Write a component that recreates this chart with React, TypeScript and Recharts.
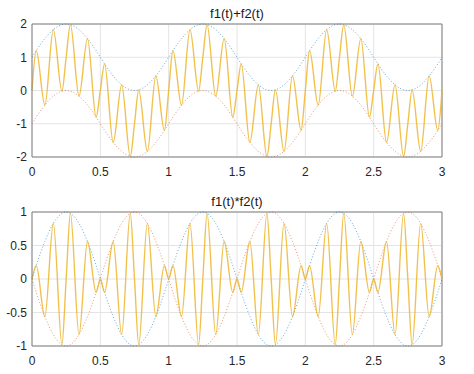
import React from "react"
import { CartesianGrid, Line, LineChart, ReferenceLine, XAxis, YAxis } from "recharts"

// sample times: extrema of the fast wave plus the quarter points of the slow one
const times = [
  0, 0.031, 0.094, 0.156, 0.219, 0.25, 0.281, 0.344, 0.406, 0.469,
  0.5, 0.531, 0.594, 0.656, 0.719, 0.75, 0.781, 0.844, 0.906, 0.969,
  1, 1.031, 1.094, 1.156, 1.219, 1.25, 1.281, 1.344, 1.406, 1.469,
  1.5, 1.531, 1.594, 1.656, 1.719, 1.75, 1.781, 1.844, 1.906, 1.969,
  2, 2.031, 2.094, 2.156, 2.219, 2.25, 2.281, 2.344, 2.406, 2.469,
  2.5, 2.531, 2.594, 2.656, 2.719, 2.75, 2.781, 2.844, 2.906, 2.969,
  3,
]

// f1(t)+f2(t)
const sumWave = [
  0, 1.2, -0.44, 1.83, -0.02, 1, 1.98, -0.17, 1.56, -0.8,
  0, 0.8, -1.56, 0.17, -1.98, -1, 0.02, -1.83, 0.44, -1.2,
  0, 1.2, -0.44, 1.83, -0.02, 1, 1.98, -0.17, 1.56, -0.8,
  0, 0.8, -1.56, 0.17, -1.98, -1, 0.02, -1.83, 0.44, -1.2,
  0, 1.2, -0.44, 1.83, -0.02, 1, 1.98, -0.17, 1.56, -0.8,
  0, 0.8, -1.56, 0.17, -1.98, -1, 0.02, -1.83, 0.44, -1.2,
  0,
]
const sumUpper = [
  1, 1.2, 1.56, 1.83, 1.98, 2, 1.98, 1.83, 1.56, 1.2,
  1, 0.8, 0.44, 0.17, 0.02, 0, 0.02, 0.17, 0.44, 0.8,
  1, 1.2, 1.56, 1.83, 1.98, 2, 1.98, 1.83, 1.56, 1.2,
  1, 0.8, 0.44, 0.17, 0.02, 0, 0.02, 0.17, 0.44, 0.8,
  1, 1.2, 1.56, 1.83, 1.98, 2, 1.98, 1.83, 1.56, 1.2,
  1, 0.8, 0.44, 0.17, 0.02, 0, 0.02, 0.17, 0.44, 0.8,
  1,
]
const sumLower = [
  -1, -0.8, -0.44, -0.17, -0.02, 0, -0.02, -0.17, -0.44, -0.8,
  -1, -1.2, -1.56, -1.83, -1.98, -2, -1.98, -1.83, -1.56, -1.2,
  -1, -0.8, -0.44, -0.17, -0.02, 0, -0.02, -0.17, -0.44, -0.8,
  -1, -1.2, -1.56, -1.83, -1.98, -2, -1.98, -1.83, -1.56, -1.2,
  -1, -0.8, -0.44, -0.17, -0.02, 0, -0.02, -0.17, -0.44, -0.8,
  -1, -1.2, -1.56, -1.83, -1.98, -2, -1.98, -1.83, -1.56, -1.2,
  -1,
]

// f1(t)*f2(t)
const prodWave = [
  0, 0.2, -0.56, 0.83, -0.98, 0, 0.98, -0.83, 0.56, -0.2,
  0, -0.2, 0.56, -0.83, 0.98, 0, -0.98, 0.83, -0.56, 0.2,
  0, 0.2, -0.56, 0.83, -0.98, 0, 0.98, -0.83, 0.56, -0.2,
  0, -0.2, 0.56, -0.83, 0.98, 0, -0.98, 0.83, -0.56, 0.2,
  0, 0.2, -0.56, 0.83, -0.98, 0, 0.98, -0.83, 0.56, -0.2,
  0, -0.2, 0.56, -0.83, 0.98, 0, -0.98, 0.83, -0.56, 0.2,
  0,
]
const prodUpper = [
  0, 0.2, 0.56, 0.83, 0.98, 1, 0.98, 0.83, 0.56, 0.2,
  0, -0.2, -0.56, -0.83, -0.98, -1, -0.98, -0.83, -0.56, -0.2,
  0, 0.2, 0.56, 0.83, 0.98, 1, 0.98, 0.83, 0.56, 0.2,
  0, -0.2, -0.56, -0.83, -0.98, -1, -0.98, -0.83, -0.56, -0.2,
  0, 0.2, 0.56, 0.83, 0.98, 1, 0.98, 0.83, 0.56, 0.2,
  0, -0.2, -0.56, -0.83, -0.98, -1, -0.98, -0.83, -0.56, -0.2,
  0,
]
const prodLower = [
  0, -0.2, -0.56, -0.83, -0.98, -1, -0.98, -0.83, -0.56, -0.2,
  0, 0.2, 0.56, 0.83, 0.98, 1, 0.98, 0.83, 0.56, 0.2,
  0, -0.2, -0.56, -0.83, -0.98, -1, -0.98, -0.83, -0.56, -0.2,
  0, 0.2, 0.56, 0.83, 0.98, 1, 0.98, 0.83, 0.56, 0.2,
  0, -0.2, -0.56, -0.83, -0.98, -1, -0.98, -0.83, -0.56, -0.2,
  0, 0.2, 0.56, 0.83, 0.98, 1, 0.98, 0.83, 0.56, 0.2,
  0,
]

const xTicks = [0, 0.5, 1, 1.5, 2, 2.5, 3]
const sumTicks = [-2, -1, 0, 1, 2]
const prodTicks = [-1, -0.5, 0, 0.5, 1]

const sumData = times.map((t, i) => ({ t, upper: sumUpper[i], lower: sumLower[i], wave: sumWave[i] }))
const prodData = times.map((t, i) => ({ t, upper: prodUpper[i], lower: prodLower[i], wave: prodWave[i] }))

const FONT = "'Liberation Sans', Arial, sans-serif"
const BOX = "#808080"
const tickStyle = { fontSize: 12, fill: "#262626", fontFamily: FONT }

function Panel({ title, data, yTicks, marginTop, height, axisHeight }: any) {
  const lo = yTicks[0]
  const hi = yTicks[yTicks.length - 1]
  return (
    <div style={{ position: "relative", width: 474, height }}>
      <div
        style={{
          position: "absolute",
          left: 32,
          width: 410,
          top: marginTop - 18,
          textAlign: "center",
          fontFamily: FONT,
          fontSize: 13,
          color: "#1a1a1a",
          lineHeight: "16px",
        }}
      >
        {title}
      </div>
      <LineChart width={474} height={height} data={data} margin={{ top: marginTop, right: 32, bottom: 0, left: 0 }}>
        <CartesianGrid stroke="#e4e4e4" />
        <XAxis
          dataKey="t"
          type="number"
          domain={[0, 3]}
          ticks={xTicks}
          height={axisHeight}
          tickLine={false}
          tickMargin={4}
          axisLine={{ stroke: BOX }}
          tick={tickStyle}
          interval={0}
        />
        <YAxis
          type="number"
          domain={[lo, hi]}
          ticks={yTicks}
          width={32}
          tickLine={false}
          tickSize={4}
          tickMargin={1}
          axisLine={{ stroke: BOX }}
          tick={tickStyle}
          interval={0}
        />
        <ReferenceLine y={hi} stroke={BOX} />
        <ReferenceLine x={3} stroke={BOX} />
        <Line type="monotone" dataKey="upper" stroke="#0072BD" strokeOpacity={0.6} strokeWidth={1} strokeDasharray="1 2" dot={false} isAnimationActive={false} />
        <Line type="monotone" dataKey="lower" stroke="#D95319" strokeOpacity={0.6} strokeWidth={1} strokeDasharray="1 2" dot={false} isAnimationActive={false} />
        <Line type="monotone" dataKey="wave" stroke="#EDB120" strokeOpacity={0.8} strokeWidth={1.4} dot={false} isAnimationActive={false} />
      </LineChart>
    </div>
  )
}

export default function App() {
  return (
    <div style={{ position: "absolute", left: 0, top: 0, width: 474, height: 374, background: "#fff" }}>
      <Panel title="f1(t)+f2(t)" data={sumData} yTicks={sumTicks} marginTop={24} height={187} axisHeight={30} />
      <Panel title="f1(t)*f2(t)" data={prodData} yTicks={prodTicks} marginTop={25} height={187} axisHeight={28} />
    </div>
  )
}
